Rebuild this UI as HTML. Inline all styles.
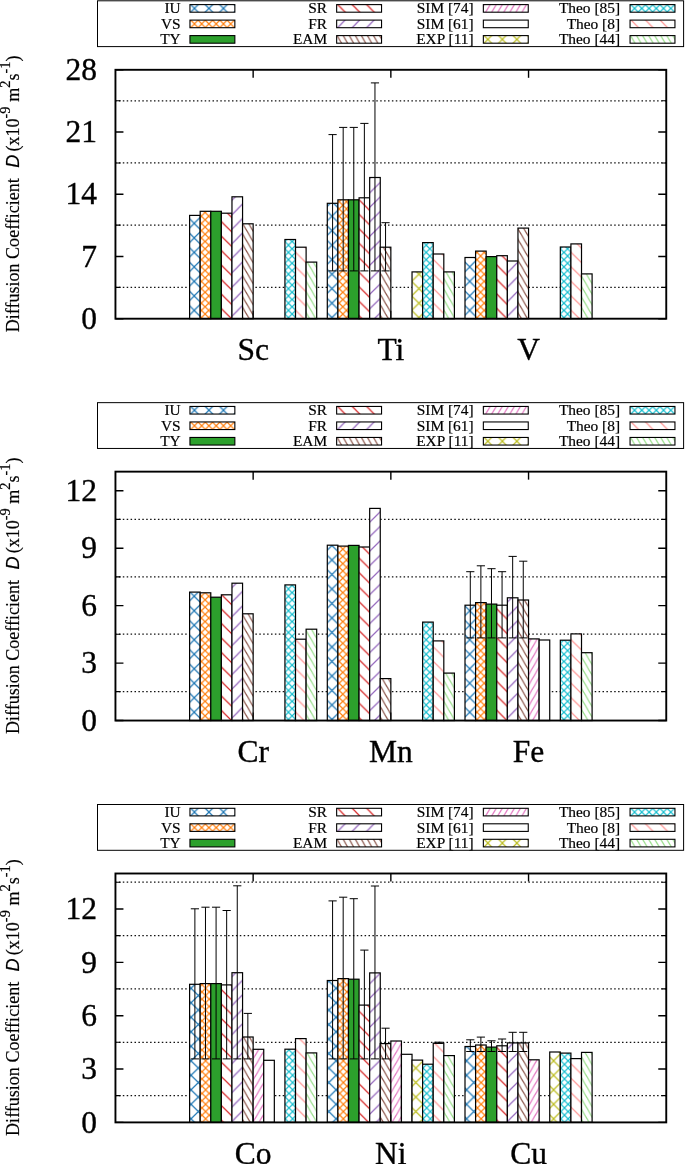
<!DOCTYPE html>
<html lang="en"><head><meta charset="utf-8"><title>Diffusion coefficients</title>
<style>html,body{margin:0;padding:0;background:#fff}svg{display:block}text{font-family:"Liberation Serif","Times New Roman",serif;fill:#000}.tk{font-size:31.5px;stroke:#000;stroke-width:.35px}.lg{font-size:15.4px;stroke:#000;stroke-width:.2px}.yl{font-size:18.05px;stroke:#000;stroke-width:.2px}.sup{font-size:14.4px}.it{font-family:"Liberation Sans",Helvetica,Arial,sans-serif;font-style:italic}</style></head><body>
<svg width="685" height="1164" viewBox="0 0 685 1164">
<rect x="0" y="0" width="685" height="1164" fill="#fff"/>
<defs>
<pattern id="p0IU" patternUnits="userSpaceOnUse" x="5.7" y="5.9" width="14.5" height="14.5"><path d="M0 0L14.5 14.5M0 14.5L14.5 0" stroke="#1f77b4" stroke-width="1.2" fill="none"/></pattern><pattern id="p0VS" patternUnits="userSpaceOnUse" x="5.7" y="5.9" width="7.25" height="7.25"><path d="M0 0L7.25 7.25M0 7.25L7.25 0" stroke="#ff7f0e" stroke-width="1.2" fill="none"/></pattern><pattern id="p0SR" patternUnits="userSpaceOnUse" x="5.7" y="5.9" width="14.5" height="14.5"><path d="M-14.5 -14.5L29.0 29.0M-14.5 0L14.5 29.0M0 -14.5L29.0 14.5" stroke="#d62728" stroke-width="1.2" fill="none"/></pattern><pattern id="p0FR" patternUnits="userSpaceOnUse" x="5.7" y="5.9" width="14.5" height="14.5"><path d="M-14.5 29.0L29.0 -14.5M-14.5 14.5L14.5 -14.5M0 29.0L29.0 0" stroke="#9467bd" stroke-width="1.2" fill="none"/></pattern><pattern id="p0EAM" patternUnits="userSpaceOnUse" x="0.6" y="3.34" width="6.05" height="10.48"><path d="M-6.05 -10.47890734L12.1 20.95781468M-6.05 0L6.05 20.95781468M0 -10.47890734L12.1 10.47890734" stroke="#8c564b" stroke-width="1.2" fill="none"/></pattern><pattern id="p0SIM74" patternUnits="userSpaceOnUse" x="0.6" y="3.34" width="6.05" height="10.48"><path d="M-6.05 20.95781468L12.1 -10.47890734M-6.05 10.47890734L6.05 -10.47890734M0 20.95781468L12.1 0" stroke="#e377c2" stroke-width="1.2" fill="none"/></pattern><pattern id="p0EXP" patternUnits="userSpaceOnUse" x="5.7" y="5.9" width="14.5" height="14.5"><path d="M0 0L14.5 14.5M0 14.5L14.5 0" stroke="#bcbd22" stroke-width="1.2" fill="none"/></pattern><pattern id="p0T85" patternUnits="userSpaceOnUse" x="5.7" y="5.9" width="7.25" height="7.25"><path d="M0 0L7.25 7.25M0 7.25L7.25 0" stroke="#17becf" stroke-width="1.2" fill="none"/></pattern><pattern id="p0T8" patternUnits="userSpaceOnUse" x="5.7" y="5.9" width="14.5" height="14.5"><path d="M-14.5 -14.5L29.0 29.0M-14.5 0L14.5 29.0M0 -14.5L29.0 14.5" stroke="#ff9896" stroke-width="1.2" fill="none"/></pattern><pattern id="p0T44" patternUnits="userSpaceOnUse" x="0.6" y="3.34" width="6.05" height="10.48"><path d="M-6.05 -10.47890734L12.1 20.95781468M-6.05 0L6.05 20.95781468M0 -10.47890734L12.1 10.47890734" stroke="#98df8a" stroke-width="1.2" fill="none"/></pattern>
<pattern id="p1IU" patternUnits="userSpaceOnUse" x="5.7" y="1.75" width="14.5" height="14.5"><path d="M0 0L14.5 14.5M0 14.5L14.5 0" stroke="#1f77b4" stroke-width="1.2" fill="none"/></pattern><pattern id="p1VS" patternUnits="userSpaceOnUse" x="5.7" y="1.75" width="7.25" height="7.25"><path d="M0 0L7.25 7.25M0 7.25L7.25 0" stroke="#ff7f0e" stroke-width="1.2" fill="none"/></pattern><pattern id="p1SR" patternUnits="userSpaceOnUse" x="5.7" y="1.75" width="14.5" height="14.5"><path d="M-14.5 -14.5L29.0 29.0M-14.5 0L14.5 29.0M0 -14.5L29.0 14.5" stroke="#d62728" stroke-width="1.2" fill="none"/></pattern><pattern id="p1FR" patternUnits="userSpaceOnUse" x="5.7" y="1.75" width="14.5" height="14.5"><path d="M-14.5 29.0L29.0 -14.5M-14.5 14.5L14.5 -14.5M0 29.0L29.0 0" stroke="#9467bd" stroke-width="1.2" fill="none"/></pattern><pattern id="p1EAM" patternUnits="userSpaceOnUse" x="0.6" y="6.99" width="6.05" height="10.48"><path d="M-6.05 -10.47890734L12.1 20.95781468M-6.05 0L6.05 20.95781468M0 -10.47890734L12.1 10.47890734" stroke="#8c564b" stroke-width="1.2" fill="none"/></pattern><pattern id="p1SIM74" patternUnits="userSpaceOnUse" x="0.6" y="6.99" width="6.05" height="10.48"><path d="M-6.05 20.95781468L12.1 -10.47890734M-6.05 10.47890734L6.05 -10.47890734M0 20.95781468L12.1 0" stroke="#e377c2" stroke-width="1.2" fill="none"/></pattern><pattern id="p1EXP" patternUnits="userSpaceOnUse" x="5.7" y="1.75" width="14.5" height="14.5"><path d="M0 0L14.5 14.5M0 14.5L14.5 0" stroke="#bcbd22" stroke-width="1.2" fill="none"/></pattern><pattern id="p1T85" patternUnits="userSpaceOnUse" x="5.7" y="1.75" width="7.25" height="7.25"><path d="M0 0L7.25 7.25M0 7.25L7.25 0" stroke="#17becf" stroke-width="1.2" fill="none"/></pattern><pattern id="p1T8" patternUnits="userSpaceOnUse" x="5.7" y="1.75" width="14.5" height="14.5"><path d="M-14.5 -14.5L29.0 29.0M-14.5 0L14.5 29.0M0 -14.5L29.0 14.5" stroke="#ff9896" stroke-width="1.2" fill="none"/></pattern><pattern id="p1T44" patternUnits="userSpaceOnUse" x="0.6" y="6.99" width="6.05" height="10.48"><path d="M-6.05 -10.47890734L12.1 20.95781468M-6.05 0L6.05 20.95781468M0 -10.47890734L12.1 10.47890734" stroke="#98df8a" stroke-width="1.2" fill="none"/></pattern>
<pattern id="p2IU" patternUnits="userSpaceOnUse" x="2.6" y="2.3" width="14.5" height="14.5"><path d="M0 0L14.5 14.5M0 14.5L14.5 0" stroke="#1f77b4" stroke-width="1.2" fill="none"/></pattern><pattern id="p2VS" patternUnits="userSpaceOnUse" x="2.6" y="2.3" width="7.25" height="7.25"><path d="M0 0L7.25 7.25M0 7.25L7.25 0" stroke="#ff7f0e" stroke-width="1.2" fill="none"/></pattern><pattern id="p2SR" patternUnits="userSpaceOnUse" x="2.6" y="2.3" width="14.5" height="14.5"><path d="M-14.5 -14.5L29.0 29.0M-14.5 0L14.5 29.0M0 -14.5L29.0 14.5" stroke="#d62728" stroke-width="1.2" fill="none"/></pattern><pattern id="p2FR" patternUnits="userSpaceOnUse" x="2.6" y="2.3" width="14.5" height="14.5"><path d="M-14.5 29.0L29.0 -14.5M-14.5 14.5L14.5 -14.5M0 29.0L29.0 0" stroke="#9467bd" stroke-width="1.2" fill="none"/></pattern><pattern id="p2EAM" patternUnits="userSpaceOnUse" x="3.55" y="3.28" width="6.05" height="10.48"><path d="M-6.05 -10.47890734L12.1 20.95781468M-6.05 0L6.05 20.95781468M0 -10.47890734L12.1 10.47890734" stroke="#8c564b" stroke-width="1.2" fill="none"/></pattern><pattern id="p2SIM74" patternUnits="userSpaceOnUse" x="3.55" y="3.28" width="6.05" height="10.48"><path d="M-6.05 20.95781468L12.1 -10.47890734M-6.05 10.47890734L6.05 -10.47890734M0 20.95781468L12.1 0" stroke="#e377c2" stroke-width="1.2" fill="none"/></pattern><pattern id="p2EXP" patternUnits="userSpaceOnUse" x="2.6" y="2.3" width="14.5" height="14.5"><path d="M0 0L14.5 14.5M0 14.5L14.5 0" stroke="#bcbd22" stroke-width="1.2" fill="none"/></pattern><pattern id="p2T85" patternUnits="userSpaceOnUse" x="2.6" y="2.3" width="7.25" height="7.25"><path d="M0 0L7.25 7.25M0 7.25L7.25 0" stroke="#17becf" stroke-width="1.2" fill="none"/></pattern><pattern id="p2T8" patternUnits="userSpaceOnUse" x="2.6" y="2.3" width="14.5" height="14.5"><path d="M-14.5 -14.5L29.0 29.0M-14.5 0L14.5 29.0M0 -14.5L29.0 14.5" stroke="#ff9896" stroke-width="1.2" fill="none"/></pattern><pattern id="p2T44" patternUnits="userSpaceOnUse" x="3.55" y="3.28" width="6.05" height="10.48"><path d="M-6.05 -10.47890734L12.1 20.95781468M-6.05 0L6.05 20.95781468M0 -10.47890734L12.1 10.47890734" stroke="#98df8a" stroke-width="1.2" fill="none"/></pattern>
</defs>
<g id="panel1">
<rect x="97.5" y="0.8" width="586.1" height="45.8" fill="#fff" stroke="#000" stroke-width="1"/>
<text class="lg" x="180.7" y="13.4" text-anchor="end">IU</text>
<pattern id="q0IU" href="#p0IU" x="194.45" y="8.4"/>
<rect x="189.95" y="4.6" width="44.9" height="7.6" fill="url(#q0IU)"/>
<rect x="189.95" y="4.6" width="44.9" height="7.6" fill="none" stroke="#000" stroke-width="1.1"/>
<text class="lg" x="180.7" y="28.9" text-anchor="end">VS</text>
<pattern id="q0VS" href="#p0VS" x="194.45" y="23.9"/>
<rect x="189.95" y="20.1" width="44.9" height="7.6" fill="url(#q0VS)"/>
<rect x="189.95" y="20.1" width="44.9" height="7.6" fill="none" stroke="#000" stroke-width="1.1"/>
<text class="lg" x="180.7" y="44.4" text-anchor="end">TY</text>
<rect x="189.95" y="35.6" width="44.9" height="7.6" fill="#2ca02c"/>
<rect x="189.95" y="35.6" width="44.9" height="7.6" fill="none" stroke="#000" stroke-width="1.1"/>
<text class="lg" x="327.15" y="13.4" text-anchor="end">SR</text>
<pattern id="q0SR" href="#p0SR" x="341.45" y="8.4"/>
<rect x="336.65" y="4.6" width="44.9" height="7.6" fill="url(#q0SR)"/>
<rect x="336.65" y="4.6" width="44.9" height="7.6" fill="none" stroke="#000" stroke-width="1.1"/>
<text class="lg" x="327.15" y="28.9" text-anchor="end">FR</text>
<pattern id="q0FR" href="#p0FR" x="341.35" y="23.9"/>
<rect x="336.65" y="20.1" width="44.9" height="7.6" fill="url(#q0FR)"/>
<rect x="336.65" y="20.1" width="44.9" height="7.6" fill="none" stroke="#000" stroke-width="1.1"/>
<text class="lg" x="327.15" y="44.4" text-anchor="end">EAM</text>
<pattern id="q0EAM" href="#p0EAM" x="339.35" y="39.4"/>
<rect x="336.65" y="35.6" width="44.9" height="7.6" fill="url(#q0EAM)"/>
<rect x="336.65" y="35.6" width="44.9" height="7.6" fill="none" stroke="#000" stroke-width="1.1"/>
<text class="lg" x="473.6" y="13.4" text-anchor="end">SIM [74]</text>
<pattern id="q0SIM74" href="#p0SIM74" x="487.95" y="8.4"/>
<rect x="483.35" y="4.6" width="44.9" height="7.6" fill="url(#q0SIM74)"/>
<rect x="483.35" y="4.6" width="44.9" height="7.6" fill="none" stroke="#000" stroke-width="1.1"/>
<text class="lg" x="473.6" y="28.9" text-anchor="end">SIM [61]</text>
<rect x="483.35" y="20.1" width="44.9" height="7.6" fill="none" stroke="#000" stroke-width="1.1"/>
<text class="lg" x="473.6" y="44.4" text-anchor="end">EXP [11]</text>
<pattern id="q0EXP" href="#p0EXP" x="487.85" y="39.4"/>
<rect x="483.35" y="35.6" width="44.9" height="7.6" fill="url(#q0EXP)"/>
<rect x="483.35" y="35.6" width="44.9" height="7.6" fill="none" stroke="#000" stroke-width="1.1"/>
<text class="lg" x="620.05" y="13.4" text-anchor="end">Theo [85]</text>
<pattern id="q0T85" href="#p0T85" x="634.55" y="8.4"/>
<rect x="630.05" y="4.6" width="44.9" height="7.6" fill="url(#q0T85)"/>
<rect x="630.05" y="4.6" width="44.9" height="7.6" fill="none" stroke="#000" stroke-width="1.1"/>
<text class="lg" x="620.05" y="28.9" text-anchor="end">Theo [8]</text>
<pattern id="q0T8" href="#p0T8" x="634.85" y="23.9"/>
<rect x="630.05" y="20.1" width="44.9" height="7.6" fill="url(#q0T8)"/>
<rect x="630.05" y="20.1" width="44.9" height="7.6" fill="none" stroke="#000" stroke-width="1.1"/>
<text class="lg" x="620.05" y="44.4" text-anchor="end">Theo [44]</text>
<pattern id="q0T44" href="#p0T44" x="632.75" y="39.4"/>
<rect x="630.05" y="35.6" width="44.9" height="7.6" fill="url(#q0T44)"/>
<rect x="630.05" y="35.6" width="44.9" height="7.6" fill="none" stroke="#000" stroke-width="1.1"/>
<line x1="115.45" x2="666.25" y1="287.44" y2="287.44" stroke="#111" stroke-width="1.25" stroke-dasharray="1.5 2.4" stroke-dashoffset="0.45"/>
<path d="M115.45 287.44h5.1M666.25 287.44h-4.4" stroke="#000" stroke-width="1.2" fill="none"/>
<line x1="115.45" x2="666.25" y1="225.21" y2="225.21" stroke="#111" stroke-width="1.25" stroke-dasharray="1.5 2.4" stroke-dashoffset="0.45"/>
<path d="M115.45 225.21h5.1M666.25 225.21h-4.4" stroke="#000" stroke-width="1.2" fill="none"/>
<line x1="115.45" x2="666.25" y1="162.99" y2="162.99" stroke="#111" stroke-width="1.25" stroke-dasharray="1.5 2.4" stroke-dashoffset="0.45"/>
<path d="M115.45 162.99h5.1M666.25 162.99h-4.4" stroke="#000" stroke-width="1.2" fill="none"/>
<line x1="115.45" x2="666.25" y1="100.76" y2="100.76" stroke="#111" stroke-width="1.25" stroke-dasharray="1.5 2.4" stroke-dashoffset="0.45"/>
<path d="M115.45 100.76h5.1M666.25 100.76h-4.4" stroke="#000" stroke-width="1.2" fill="none"/>
<rect x="189.6" y="215.4" width="10.59" height="103.3" fill="#fff"/>
<rect x="189.6" y="215.4" width="10.59" height="103.3" fill="url(#p0IU)"/>
<rect x="189.6" y="215.4" width="10.59" height="103.3" fill="none" stroke="#000" stroke-width="1.2"/>
<rect x="200.19" y="211.3" width="10.59" height="107.4" fill="#fff"/>
<rect x="200.19" y="211.3" width="10.59" height="107.4" fill="url(#p0VS)"/>
<rect x="200.19" y="211.3" width="10.59" height="107.4" fill="none" stroke="#000" stroke-width="1.2"/>
<rect x="210.78" y="211.3" width="10.59" height="107.4" fill="#fff"/>
<rect x="210.78" y="211.3" width="10.59" height="107.4" fill="#2ca02c"/>
<rect x="210.78" y="211.3" width="10.59" height="107.4" fill="none" stroke="#000" stroke-width="1.2"/>
<rect x="221.37" y="213.2" width="10.59" height="105.5" fill="#fff"/>
<rect x="221.37" y="213.2" width="10.59" height="105.5" fill="url(#p0SR)"/>
<rect x="221.37" y="213.2" width="10.59" height="105.5" fill="none" stroke="#000" stroke-width="1.2"/>
<rect x="231.97" y="196.8" width="10.59" height="121.9" fill="#fff"/>
<rect x="231.97" y="196.8" width="10.59" height="121.9" fill="url(#p0FR)"/>
<rect x="231.97" y="196.8" width="10.59" height="121.9" fill="none" stroke="#000" stroke-width="1.2"/>
<rect x="242.56" y="223.8" width="10.59" height="94.9" fill="#fff"/>
<rect x="242.56" y="223.8" width="10.59" height="94.9" fill="url(#p0EAM)"/>
<rect x="242.56" y="223.8" width="10.59" height="94.9" fill="none" stroke="#000" stroke-width="1.2"/>
<rect x="284.93" y="239.5" width="10.59" height="79.2" fill="#fff"/>
<rect x="284.93" y="239.5" width="10.59" height="79.2" fill="url(#p0T85)"/>
<rect x="284.93" y="239.5" width="10.59" height="79.2" fill="none" stroke="#000" stroke-width="1.2"/>
<rect x="295.52" y="247.2" width="10.59" height="71.5" fill="#fff"/>
<rect x="295.52" y="247.2" width="10.59" height="71.5" fill="url(#p0T8)"/>
<rect x="295.52" y="247.2" width="10.59" height="71.5" fill="none" stroke="#000" stroke-width="1.2"/>
<rect x="306.11" y="262.1" width="10.59" height="56.6" fill="#fff"/>
<rect x="306.11" y="262.1" width="10.59" height="56.6" fill="url(#p0T44)"/>
<rect x="306.11" y="262.1" width="10.59" height="56.6" fill="none" stroke="#000" stroke-width="1.2"/>
<rect x="327.3" y="203.3" width="10.59" height="115.4" fill="#fff"/>
<rect x="327.3" y="203.3" width="10.59" height="115.4" fill="url(#p0IU)"/>
<rect x="327.3" y="203.3" width="10.59" height="115.4" fill="none" stroke="#000" stroke-width="1.2"/>
<rect x="337.89" y="199.8" width="10.59" height="118.9" fill="#fff"/>
<rect x="337.89" y="199.8" width="10.59" height="118.9" fill="url(#p0VS)"/>
<rect x="337.89" y="199.8" width="10.59" height="118.9" fill="none" stroke="#000" stroke-width="1.2"/>
<rect x="348.48" y="199.8" width="10.59" height="118.9" fill="#fff"/>
<rect x="348.48" y="199.8" width="10.59" height="118.9" fill="#2ca02c"/>
<rect x="348.48" y="199.8" width="10.59" height="118.9" fill="none" stroke="#000" stroke-width="1.2"/>
<rect x="359.07" y="197.8" width="10.59" height="120.9" fill="#fff"/>
<rect x="359.07" y="197.8" width="10.59" height="120.9" fill="url(#p0SR)"/>
<rect x="359.07" y="197.8" width="10.59" height="120.9" fill="none" stroke="#000" stroke-width="1.2"/>
<rect x="369.67" y="177.5" width="10.59" height="141.2" fill="#fff"/>
<rect x="369.67" y="177.5" width="10.59" height="141.2" fill="url(#p0FR)"/>
<rect x="369.67" y="177.5" width="10.59" height="141.2" fill="none" stroke="#000" stroke-width="1.2"/>
<rect x="380.26" y="247.2" width="10.59" height="71.5" fill="#fff"/>
<rect x="380.26" y="247.2" width="10.59" height="71.5" fill="url(#p0EAM)"/>
<rect x="380.26" y="247.2" width="10.59" height="71.5" fill="none" stroke="#000" stroke-width="1.2"/>
<rect x="412.03" y="271.9" width="10.59" height="46.8" fill="#fff"/>
<rect x="412.03" y="271.9" width="10.59" height="46.8" fill="url(#p0EXP)"/>
<rect x="412.03" y="271.9" width="10.59" height="46.8" fill="none" stroke="#000" stroke-width="1.2"/>
<rect x="422.63" y="242.6" width="10.59" height="76.1" fill="#fff"/>
<rect x="422.63" y="242.6" width="10.59" height="76.1" fill="url(#p0T85)"/>
<rect x="422.63" y="242.6" width="10.59" height="76.1" fill="none" stroke="#000" stroke-width="1.2"/>
<rect x="433.22" y="254" width="10.59" height="64.7" fill="#fff"/>
<rect x="433.22" y="254" width="10.59" height="64.7" fill="url(#p0T8)"/>
<rect x="433.22" y="254" width="10.59" height="64.7" fill="none" stroke="#000" stroke-width="1.2"/>
<rect x="443.81" y="271.9" width="10.59" height="46.8" fill="#fff"/>
<rect x="443.81" y="271.9" width="10.59" height="46.8" fill="url(#p0T44)"/>
<rect x="443.81" y="271.9" width="10.59" height="46.8" fill="none" stroke="#000" stroke-width="1.2"/>
<rect x="465" y="257.5" width="10.59" height="61.2" fill="#fff"/>
<rect x="465" y="257.5" width="10.59" height="61.2" fill="url(#p0IU)"/>
<rect x="465" y="257.5" width="10.59" height="61.2" fill="none" stroke="#000" stroke-width="1.2"/>
<rect x="475.59" y="251.1" width="10.59" height="67.6" fill="#fff"/>
<rect x="475.59" y="251.1" width="10.59" height="67.6" fill="url(#p0VS)"/>
<rect x="475.59" y="251.1" width="10.59" height="67.6" fill="none" stroke="#000" stroke-width="1.2"/>
<rect x="486.18" y="256.6" width="10.59" height="62.1" fill="#fff"/>
<rect x="486.18" y="256.6" width="10.59" height="62.1" fill="#2ca02c"/>
<rect x="486.18" y="256.6" width="10.59" height="62.1" fill="none" stroke="#000" stroke-width="1.2"/>
<rect x="496.77" y="255.7" width="10.59" height="63" fill="#fff"/>
<rect x="496.77" y="255.7" width="10.59" height="63" fill="url(#p0SR)"/>
<rect x="496.77" y="255.7" width="10.59" height="63" fill="none" stroke="#000" stroke-width="1.2"/>
<rect x="507.37" y="261" width="10.59" height="57.7" fill="#fff"/>
<rect x="507.37" y="261" width="10.59" height="57.7" fill="url(#p0FR)"/>
<rect x="507.37" y="261" width="10.59" height="57.7" fill="none" stroke="#000" stroke-width="1.2"/>
<rect x="517.96" y="228.1" width="10.59" height="90.6" fill="#fff"/>
<rect x="517.96" y="228.1" width="10.59" height="90.6" fill="url(#p0EAM)"/>
<rect x="517.96" y="228.1" width="10.59" height="90.6" fill="none" stroke="#000" stroke-width="1.2"/>
<rect x="560.33" y="247" width="10.59" height="71.7" fill="#fff"/>
<rect x="560.33" y="247" width="10.59" height="71.7" fill="url(#p0T85)"/>
<rect x="560.33" y="247" width="10.59" height="71.7" fill="none" stroke="#000" stroke-width="1.2"/>
<rect x="570.92" y="243.9" width="10.59" height="74.8" fill="#fff"/>
<rect x="570.92" y="243.9" width="10.59" height="74.8" fill="url(#p0T8)"/>
<rect x="570.92" y="243.9" width="10.59" height="74.8" fill="none" stroke="#000" stroke-width="1.2"/>
<rect x="581.51" y="273.9" width="10.59" height="44.8" fill="#fff"/>
<rect x="581.51" y="273.9" width="10.59" height="44.8" fill="url(#p0T44)"/>
<rect x="581.51" y="273.9" width="10.59" height="44.8" fill="none" stroke="#000" stroke-width="1.2"/>
<path d="M332.59 134.6V270.9M328.49 134.6H336.69M328.49 270.9H336.69" stroke="#000" stroke-width="1" fill="none"/>
<path d="M343.18 127.4V270.9M339.08 127.4H347.28M339.08 270.9H347.28" stroke="#000" stroke-width="1" fill="none"/>
<path d="M353.78 127.4V270.9M349.68 127.4H357.88M349.68 270.9H357.88" stroke="#000" stroke-width="1" fill="none"/>
<path d="M364.37 123.4V270.9M360.27 123.4H368.47M360.27 270.9H368.47" stroke="#000" stroke-width="1" fill="none"/>
<path d="M374.96 82.9V270.9M370.86 82.9H379.06M370.86 270.9H379.06" stroke="#000" stroke-width="1" fill="none"/>
<path d="M385.55 222.7V270.9M381.45 222.7H389.65M381.45 270.9H389.65" stroke="#000" stroke-width="1" fill="none"/>
<path d="M115.45 318.7h8M666.25 318.7h-8" stroke="#000" stroke-width="1.4" fill="none"/>
<text class="tk" x="97" y="328.9" text-anchor="end">0</text>
<path d="M115.45 256.48h8M666.25 256.48h-8" stroke="#000" stroke-width="1.4" fill="none"/>
<text class="tk" x="97" y="266.68" text-anchor="end">7</text>
<path d="M115.45 194.25h8M666.25 194.25h-8" stroke="#000" stroke-width="1.4" fill="none"/>
<text class="tk" x="97" y="204.45" text-anchor="end">14</text>
<path d="M115.45 132.03h8M666.25 132.03h-8" stroke="#000" stroke-width="1.4" fill="none"/>
<text class="tk" x="97" y="142.22" text-anchor="end">21</text>
<path d="M115.45 69.8h8M666.25 69.8h-8" stroke="#000" stroke-width="1.4" fill="none"/>
<text class="tk" x="97" y="80" text-anchor="end">28</text>
<path d="M253.15 69.8v8" stroke="#000" stroke-width="1.4" fill="none"/>
<path d="M253.15 318.7v-8" stroke="#000" stroke-width="1.1" fill="none"/>
<text class="tk" x="253.15" y="360.2" text-anchor="middle">Sc</text>
<path d="M390.85 69.8v8" stroke="#000" stroke-width="1.4" fill="none"/>
<path d="M390.85 318.7v-8" stroke="#000" stroke-width="1.1" fill="none"/>
<text class="tk" x="390.85" y="360.2" text-anchor="middle">Ti</text>
<path d="M528.55 69.8v8" stroke="#000" stroke-width="1.4" fill="none"/>
<path d="M528.55 318.7v-8" stroke="#000" stroke-width="1.1" fill="none"/>
<text class="tk" x="528.55" y="360.2" text-anchor="middle">V</text>
<rect x="115.45" y="69.8" width="550.8" height="248.9" fill="none" stroke="#000" stroke-width="1.9"/>
<text class="yl" transform="translate(18.8 332.2) rotate(-90)">Diffusion Coefficient<tspan class="it" dx="10.4">D</tspan><tspan dx="3.2">(x10</tspan><tspan class="sup" dy="-9">-9</tspan><tspan dy="9" dx="4.6">m</tspan><tspan class="sup" dy="-9">2</tspan><tspan dy="9">s</tspan><tspan class="sup" dy="-9">-1</tspan><tspan dy="9">)</tspan></text>
</g>
<g id="panel2">
<rect x="97.5" y="402.65" width="586.1" height="45.8" fill="#fff" stroke="#000" stroke-width="1"/>
<text class="lg" x="180.7" y="415.25" text-anchor="end">IU</text>
<pattern id="q1IU" href="#p1IU" x="194.45" y="410.25"/>
<rect x="189.95" y="406.45" width="44.9" height="7.6" fill="url(#q1IU)"/>
<rect x="189.95" y="406.45" width="44.9" height="7.6" fill="none" stroke="#000" stroke-width="1.1"/>
<text class="lg" x="180.7" y="430.75" text-anchor="end">VS</text>
<pattern id="q1VS" href="#p1VS" x="194.45" y="425.75"/>
<rect x="189.95" y="421.95" width="44.9" height="7.6" fill="url(#q1VS)"/>
<rect x="189.95" y="421.95" width="44.9" height="7.6" fill="none" stroke="#000" stroke-width="1.1"/>
<text class="lg" x="180.7" y="446.25" text-anchor="end">TY</text>
<rect x="189.95" y="437.45" width="44.9" height="7.6" fill="#2ca02c"/>
<rect x="189.95" y="437.45" width="44.9" height="7.6" fill="none" stroke="#000" stroke-width="1.1"/>
<text class="lg" x="327.15" y="415.25" text-anchor="end">SR</text>
<pattern id="q1SR" href="#p1SR" x="341.45" y="410.25"/>
<rect x="336.65" y="406.45" width="44.9" height="7.6" fill="url(#q1SR)"/>
<rect x="336.65" y="406.45" width="44.9" height="7.6" fill="none" stroke="#000" stroke-width="1.1"/>
<text class="lg" x="327.15" y="430.75" text-anchor="end">FR</text>
<pattern id="q1FR" href="#p1FR" x="341.35" y="425.75"/>
<rect x="336.65" y="421.95" width="44.9" height="7.6" fill="url(#q1FR)"/>
<rect x="336.65" y="421.95" width="44.9" height="7.6" fill="none" stroke="#000" stroke-width="1.1"/>
<text class="lg" x="327.15" y="446.25" text-anchor="end">EAM</text>
<pattern id="q1EAM" href="#p1EAM" x="339.35" y="441.25"/>
<rect x="336.65" y="437.45" width="44.9" height="7.6" fill="url(#q1EAM)"/>
<rect x="336.65" y="437.45" width="44.9" height="7.6" fill="none" stroke="#000" stroke-width="1.1"/>
<text class="lg" x="473.6" y="415.25" text-anchor="end">SIM [74]</text>
<pattern id="q1SIM74" href="#p1SIM74" x="487.95" y="410.25"/>
<rect x="483.35" y="406.45" width="44.9" height="7.6" fill="url(#q1SIM74)"/>
<rect x="483.35" y="406.45" width="44.9" height="7.6" fill="none" stroke="#000" stroke-width="1.1"/>
<text class="lg" x="473.6" y="430.75" text-anchor="end">SIM [61]</text>
<rect x="483.35" y="421.95" width="44.9" height="7.6" fill="none" stroke="#000" stroke-width="1.1"/>
<text class="lg" x="473.6" y="446.25" text-anchor="end">EXP [11]</text>
<pattern id="q1EXP" href="#p1EXP" x="487.85" y="441.25"/>
<rect x="483.35" y="437.45" width="44.9" height="7.6" fill="url(#q1EXP)"/>
<rect x="483.35" y="437.45" width="44.9" height="7.6" fill="none" stroke="#000" stroke-width="1.1"/>
<text class="lg" x="620.05" y="415.25" text-anchor="end">Theo [85]</text>
<pattern id="q1T85" href="#p1T85" x="634.55" y="410.25"/>
<rect x="630.05" y="406.45" width="44.9" height="7.6" fill="url(#q1T85)"/>
<rect x="630.05" y="406.45" width="44.9" height="7.6" fill="none" stroke="#000" stroke-width="1.1"/>
<text class="lg" x="620.05" y="430.75" text-anchor="end">Theo [8]</text>
<pattern id="q1T8" href="#p1T8" x="634.85" y="425.75"/>
<rect x="630.05" y="421.95" width="44.9" height="7.6" fill="url(#q1T8)"/>
<rect x="630.05" y="421.95" width="44.9" height="7.6" fill="none" stroke="#000" stroke-width="1.1"/>
<text class="lg" x="620.05" y="446.25" text-anchor="end">Theo [44]</text>
<pattern id="q1T44" href="#p1T44" x="632.75" y="441.25"/>
<rect x="630.05" y="437.45" width="44.9" height="7.6" fill="url(#q1T44)"/>
<rect x="630.05" y="437.45" width="44.9" height="7.6" fill="none" stroke="#000" stroke-width="1.1"/>
<line x1="115.45" x2="666.25" y1="691.68" y2="691.68" stroke="#111" stroke-width="1.25" stroke-dasharray="1.5 2.4" stroke-dashoffset="0.45"/>
<path d="M115.45 691.68h5.1M666.25 691.68h-4.4" stroke="#000" stroke-width="1.2" fill="none"/>
<line x1="115.45" x2="666.25" y1="634.24" y2="634.24" stroke="#111" stroke-width="1.25" stroke-dasharray="1.5 2.4" stroke-dashoffset="0.45"/>
<path d="M115.45 634.24h5.1M666.25 634.24h-4.4" stroke="#000" stroke-width="1.2" fill="none"/>
<line x1="115.45" x2="666.25" y1="576.8" y2="576.8" stroke="#111" stroke-width="1.25" stroke-dasharray="1.5 2.4" stroke-dashoffset="0.45"/>
<path d="M115.45 576.8h5.1M666.25 576.8h-4.4" stroke="#000" stroke-width="1.2" fill="none"/>
<line x1="115.45" x2="666.25" y1="519.37" y2="519.37" stroke="#111" stroke-width="1.25" stroke-dasharray="1.5 2.4" stroke-dashoffset="0.45"/>
<path d="M115.45 519.37h5.1M666.25 519.37h-4.4" stroke="#000" stroke-width="1.2" fill="none"/>
<rect x="189.6" y="592.1" width="10.59" height="128.45" fill="#fff"/>
<rect x="189.6" y="592.1" width="10.59" height="128.45" fill="url(#p1IU)"/>
<rect x="189.6" y="592.1" width="10.59" height="128.45" fill="none" stroke="#000" stroke-width="1.2"/>
<rect x="200.19" y="592.8" width="10.59" height="127.75" fill="#fff"/>
<rect x="200.19" y="592.8" width="10.59" height="127.75" fill="url(#p1VS)"/>
<rect x="200.19" y="592.8" width="10.59" height="127.75" fill="none" stroke="#000" stroke-width="1.2"/>
<rect x="210.78" y="597.2" width="10.59" height="123.35" fill="#fff"/>
<rect x="210.78" y="597.2" width="10.59" height="123.35" fill="#2ca02c"/>
<rect x="210.78" y="597.2" width="10.59" height="123.35" fill="none" stroke="#000" stroke-width="1.2"/>
<rect x="221.37" y="594.8" width="10.59" height="125.75" fill="#fff"/>
<rect x="221.37" y="594.8" width="10.59" height="125.75" fill="url(#p1SR)"/>
<rect x="221.37" y="594.8" width="10.59" height="125.75" fill="none" stroke="#000" stroke-width="1.2"/>
<rect x="231.97" y="583.2" width="10.59" height="137.35" fill="#fff"/>
<rect x="231.97" y="583.2" width="10.59" height="137.35" fill="url(#p1FR)"/>
<rect x="231.97" y="583.2" width="10.59" height="137.35" fill="none" stroke="#000" stroke-width="1.2"/>
<rect x="242.56" y="613.8" width="10.59" height="106.75" fill="#fff"/>
<rect x="242.56" y="613.8" width="10.59" height="106.75" fill="url(#p1EAM)"/>
<rect x="242.56" y="613.8" width="10.59" height="106.75" fill="none" stroke="#000" stroke-width="1.2"/>
<rect x="284.93" y="584.9" width="10.59" height="135.65" fill="#fff"/>
<rect x="284.93" y="584.9" width="10.59" height="135.65" fill="url(#p1T85)"/>
<rect x="284.93" y="584.9" width="10.59" height="135.65" fill="none" stroke="#000" stroke-width="1.2"/>
<rect x="295.52" y="639.2" width="10.59" height="81.35" fill="#fff"/>
<rect x="295.52" y="639.2" width="10.59" height="81.35" fill="url(#p1T8)"/>
<rect x="295.52" y="639.2" width="10.59" height="81.35" fill="none" stroke="#000" stroke-width="1.2"/>
<rect x="306.11" y="629.2" width="10.59" height="91.35" fill="#fff"/>
<rect x="306.11" y="629.2" width="10.59" height="91.35" fill="url(#p1T44)"/>
<rect x="306.11" y="629.2" width="10.59" height="91.35" fill="none" stroke="#000" stroke-width="1.2"/>
<rect x="327.3" y="545.2" width="10.59" height="175.35" fill="#fff"/>
<rect x="327.3" y="545.2" width="10.59" height="175.35" fill="url(#p1IU)"/>
<rect x="327.3" y="545.2" width="10.59" height="175.35" fill="none" stroke="#000" stroke-width="1.2"/>
<rect x="337.89" y="546.1" width="10.59" height="174.45" fill="#fff"/>
<rect x="337.89" y="546.1" width="10.59" height="174.45" fill="url(#p1VS)"/>
<rect x="337.89" y="546.1" width="10.59" height="174.45" fill="none" stroke="#000" stroke-width="1.2"/>
<rect x="348.48" y="545.4" width="10.59" height="175.15" fill="#fff"/>
<rect x="348.48" y="545.4" width="10.59" height="175.15" fill="#2ca02c"/>
<rect x="348.48" y="545.4" width="10.59" height="175.15" fill="none" stroke="#000" stroke-width="1.2"/>
<rect x="359.07" y="547" width="10.59" height="173.55" fill="#fff"/>
<rect x="359.07" y="547" width="10.59" height="173.55" fill="url(#p1SR)"/>
<rect x="359.07" y="547" width="10.59" height="173.55" fill="none" stroke="#000" stroke-width="1.2"/>
<rect x="369.67" y="508.4" width="10.59" height="212.15" fill="#fff"/>
<rect x="369.67" y="508.4" width="10.59" height="212.15" fill="url(#p1FR)"/>
<rect x="369.67" y="508.4" width="10.59" height="212.15" fill="none" stroke="#000" stroke-width="1.2"/>
<rect x="380.26" y="678.6" width="10.59" height="41.95" fill="#fff"/>
<rect x="380.26" y="678.6" width="10.59" height="41.95" fill="url(#p1EAM)"/>
<rect x="380.26" y="678.6" width="10.59" height="41.95" fill="none" stroke="#000" stroke-width="1.2"/>
<rect x="422.63" y="622.1" width="10.59" height="98.45" fill="#fff"/>
<rect x="422.63" y="622.1" width="10.59" height="98.45" fill="url(#p1T85)"/>
<rect x="422.63" y="622.1" width="10.59" height="98.45" fill="none" stroke="#000" stroke-width="1.2"/>
<rect x="433.22" y="640.9" width="10.59" height="79.65" fill="#fff"/>
<rect x="433.22" y="640.9" width="10.59" height="79.65" fill="url(#p1T8)"/>
<rect x="433.22" y="640.9" width="10.59" height="79.65" fill="none" stroke="#000" stroke-width="1.2"/>
<rect x="443.81" y="673.1" width="10.59" height="47.45" fill="#fff"/>
<rect x="443.81" y="673.1" width="10.59" height="47.45" fill="url(#p1T44)"/>
<rect x="443.81" y="673.1" width="10.59" height="47.45" fill="none" stroke="#000" stroke-width="1.2"/>
<rect x="465" y="605.2" width="10.59" height="115.35" fill="#fff"/>
<rect x="465" y="605.2" width="10.59" height="115.35" fill="url(#p1IU)"/>
<rect x="465" y="605.2" width="10.59" height="115.35" fill="none" stroke="#000" stroke-width="1.2"/>
<rect x="475.59" y="602.6" width="10.59" height="117.95" fill="#fff"/>
<rect x="475.59" y="602.6" width="10.59" height="117.95" fill="url(#p1VS)"/>
<rect x="475.59" y="602.6" width="10.59" height="117.95" fill="none" stroke="#000" stroke-width="1.2"/>
<rect x="486.18" y="604.1" width="10.59" height="116.45" fill="#fff"/>
<rect x="486.18" y="604.1" width="10.59" height="116.45" fill="#2ca02c"/>
<rect x="486.18" y="604.1" width="10.59" height="116.45" fill="none" stroke="#000" stroke-width="1.2"/>
<rect x="496.77" y="605.2" width="10.59" height="115.35" fill="#fff"/>
<rect x="496.77" y="605.2" width="10.59" height="115.35" fill="url(#p1SR)"/>
<rect x="496.77" y="605.2" width="10.59" height="115.35" fill="none" stroke="#000" stroke-width="1.2"/>
<rect x="507.37" y="597.8" width="10.59" height="122.75" fill="#fff"/>
<rect x="507.37" y="597.8" width="10.59" height="122.75" fill="url(#p1FR)"/>
<rect x="507.37" y="597.8" width="10.59" height="122.75" fill="none" stroke="#000" stroke-width="1.2"/>
<rect x="517.96" y="600" width="10.59" height="120.55" fill="#fff"/>
<rect x="517.96" y="600" width="10.59" height="120.55" fill="url(#p1EAM)"/>
<rect x="517.96" y="600" width="10.59" height="120.55" fill="none" stroke="#000" stroke-width="1.2"/>
<rect x="528.55" y="638.9" width="10.59" height="81.65" fill="#fff"/>
<rect x="528.55" y="638.9" width="10.59" height="81.65" fill="url(#p1SIM74)"/>
<rect x="528.55" y="638.9" width="10.59" height="81.65" fill="none" stroke="#000" stroke-width="1.2"/>
<rect x="539.14" y="640" width="10.59" height="80.55" fill="#fff"/>
<rect x="539.14" y="640" width="10.59" height="80.55" fill="none" stroke="#000" stroke-width="1.2"/>
<rect x="560.33" y="640.2" width="10.59" height="80.35" fill="#fff"/>
<rect x="560.33" y="640.2" width="10.59" height="80.35" fill="url(#p1T85)"/>
<rect x="560.33" y="640.2" width="10.59" height="80.35" fill="none" stroke="#000" stroke-width="1.2"/>
<rect x="570.92" y="633.9" width="10.59" height="86.65" fill="#fff"/>
<rect x="570.92" y="633.9" width="10.59" height="86.65" fill="url(#p1T8)"/>
<rect x="570.92" y="633.9" width="10.59" height="86.65" fill="none" stroke="#000" stroke-width="1.2"/>
<rect x="581.51" y="652.7" width="10.59" height="67.85" fill="#fff"/>
<rect x="581.51" y="652.7" width="10.59" height="67.85" fill="url(#p1T44)"/>
<rect x="581.51" y="652.7" width="10.59" height="67.85" fill="none" stroke="#000" stroke-width="1.2"/>
<path d="M470.29 571.7V637.9M466.19 571.7H474.39M466.19 637.9H474.39" stroke="#000" stroke-width="1" fill="none"/>
<path d="M480.88 565.8V637.9M476.78 565.8H484.98M476.78 637.9H484.98" stroke="#000" stroke-width="1" fill="none"/>
<path d="M491.48 568.7V637.9M487.38 568.7H495.58M487.38 637.9H495.58" stroke="#000" stroke-width="1" fill="none"/>
<path d="M502.07 571.7V637.9M497.97 571.7H506.17M497.97 637.9H506.17" stroke="#000" stroke-width="1" fill="none"/>
<path d="M512.66 556.4V637.9M508.56 556.4H516.76M508.56 637.9H516.76" stroke="#000" stroke-width="1" fill="none"/>
<path d="M523.25 561.2V637.9M519.15 561.2H527.35M519.15 637.9H527.35" stroke="#000" stroke-width="1" fill="none"/>
<path d="M115.45 720.55h8M666.25 720.55h-8" stroke="#000" stroke-width="1.4" fill="none"/>
<text class="tk" x="97" y="730.75" text-anchor="end">0</text>
<path d="M115.45 663.11h8M666.25 663.11h-8" stroke="#000" stroke-width="1.4" fill="none"/>
<text class="tk" x="97" y="673.31" text-anchor="end">3</text>
<path d="M115.45 605.67h8M666.25 605.67h-8" stroke="#000" stroke-width="1.4" fill="none"/>
<text class="tk" x="97" y="615.87" text-anchor="end">6</text>
<path d="M115.45 548.23h8M666.25 548.23h-8" stroke="#000" stroke-width="1.4" fill="none"/>
<text class="tk" x="97" y="558.43" text-anchor="end">9</text>
<path d="M115.45 490.8h8M666.25 490.8h-8" stroke="#000" stroke-width="1.4" fill="none"/>
<text class="tk" x="97" y="501" text-anchor="end">12</text>
<path d="M253.15 471.65v8" stroke="#000" stroke-width="1.4" fill="none"/>
<path d="M253.15 720.55v-8" stroke="#000" stroke-width="1.1" fill="none"/>
<text class="tk" x="253.15" y="762.05" text-anchor="middle">Cr</text>
<path d="M390.85 471.65v8" stroke="#000" stroke-width="1.4" fill="none"/>
<path d="M390.85 720.55v-8" stroke="#000" stroke-width="1.1" fill="none"/>
<text class="tk" x="390.85" y="762.05" text-anchor="middle">Mn</text>
<path d="M528.55 471.65v8" stroke="#000" stroke-width="1.4" fill="none"/>
<path d="M528.55 720.55v-8" stroke="#000" stroke-width="1.1" fill="none"/>
<text class="tk" x="528.55" y="762.05" text-anchor="middle">Fe</text>
<rect x="115.45" y="471.65" width="550.8" height="248.9" fill="none" stroke="#000" stroke-width="1.9"/>
<text class="yl" transform="translate(18.8 734.05) rotate(-90)">Diffusion Coefficient<tspan class="it" dx="10.4">D</tspan><tspan dx="3.2">(x10</tspan><tspan class="sup" dy="-9">-9</tspan><tspan dy="9" dx="4.6">m</tspan><tspan class="sup" dy="-9">2</tspan><tspan dy="9">s</tspan><tspan class="sup" dy="-9">-1</tspan><tspan dy="9">)</tspan></text>
</g>
<g id="panel3">
<rect x="97.5" y="804.5" width="586.1" height="45.8" fill="#fff" stroke="#000" stroke-width="1"/>
<text class="lg" x="180.7" y="817.1" text-anchor="end">IU</text>
<pattern id="q2IU" href="#p2IU" x="194.45" y="812.1"/>
<rect x="189.95" y="808.3" width="44.9" height="7.6" fill="url(#q2IU)"/>
<rect x="189.95" y="808.3" width="44.9" height="7.6" fill="none" stroke="#000" stroke-width="1.1"/>
<text class="lg" x="180.7" y="832.6" text-anchor="end">VS</text>
<pattern id="q2VS" href="#p2VS" x="194.45" y="827.6"/>
<rect x="189.95" y="823.8" width="44.9" height="7.6" fill="url(#q2VS)"/>
<rect x="189.95" y="823.8" width="44.9" height="7.6" fill="none" stroke="#000" stroke-width="1.1"/>
<text class="lg" x="180.7" y="848.1" text-anchor="end">TY</text>
<rect x="189.95" y="839.3" width="44.9" height="7.6" fill="#2ca02c"/>
<rect x="189.95" y="839.3" width="44.9" height="7.6" fill="none" stroke="#000" stroke-width="1.1"/>
<text class="lg" x="327.15" y="817.1" text-anchor="end">SR</text>
<pattern id="q2SR" href="#p2SR" x="341.45" y="812.1"/>
<rect x="336.65" y="808.3" width="44.9" height="7.6" fill="url(#q2SR)"/>
<rect x="336.65" y="808.3" width="44.9" height="7.6" fill="none" stroke="#000" stroke-width="1.1"/>
<text class="lg" x="327.15" y="832.6" text-anchor="end">FR</text>
<pattern id="q2FR" href="#p2FR" x="341.35" y="827.6"/>
<rect x="336.65" y="823.8" width="44.9" height="7.6" fill="url(#q2FR)"/>
<rect x="336.65" y="823.8" width="44.9" height="7.6" fill="none" stroke="#000" stroke-width="1.1"/>
<text class="lg" x="327.15" y="848.1" text-anchor="end">EAM</text>
<pattern id="q2EAM" href="#p2EAM" x="339.35" y="843.1"/>
<rect x="336.65" y="839.3" width="44.9" height="7.6" fill="url(#q2EAM)"/>
<rect x="336.65" y="839.3" width="44.9" height="7.6" fill="none" stroke="#000" stroke-width="1.1"/>
<text class="lg" x="473.6" y="817.1" text-anchor="end">SIM [74]</text>
<pattern id="q2SIM74" href="#p2SIM74" x="487.95" y="812.1"/>
<rect x="483.35" y="808.3" width="44.9" height="7.6" fill="url(#q2SIM74)"/>
<rect x="483.35" y="808.3" width="44.9" height="7.6" fill="none" stroke="#000" stroke-width="1.1"/>
<text class="lg" x="473.6" y="832.6" text-anchor="end">SIM [61]</text>
<rect x="483.35" y="823.8" width="44.9" height="7.6" fill="none" stroke="#000" stroke-width="1.1"/>
<text class="lg" x="473.6" y="848.1" text-anchor="end">EXP [11]</text>
<pattern id="q2EXP" href="#p2EXP" x="487.85" y="843.1"/>
<rect x="483.35" y="839.3" width="44.9" height="7.6" fill="url(#q2EXP)"/>
<rect x="483.35" y="839.3" width="44.9" height="7.6" fill="none" stroke="#000" stroke-width="1.1"/>
<text class="lg" x="620.05" y="817.1" text-anchor="end">Theo [85]</text>
<pattern id="q2T85" href="#p2T85" x="634.55" y="812.1"/>
<rect x="630.05" y="808.3" width="44.9" height="7.6" fill="url(#q2T85)"/>
<rect x="630.05" y="808.3" width="44.9" height="7.6" fill="none" stroke="#000" stroke-width="1.1"/>
<text class="lg" x="620.05" y="832.6" text-anchor="end">Theo [8]</text>
<pattern id="q2T8" href="#p2T8" x="634.85" y="827.6"/>
<rect x="630.05" y="823.8" width="44.9" height="7.6" fill="url(#q2T8)"/>
<rect x="630.05" y="823.8" width="44.9" height="7.6" fill="none" stroke="#000" stroke-width="1.1"/>
<text class="lg" x="620.05" y="848.1" text-anchor="end">Theo [44]</text>
<pattern id="q2T44" href="#p2T44" x="632.75" y="843.1"/>
<rect x="630.05" y="839.3" width="44.9" height="7.6" fill="url(#q2T44)"/>
<rect x="630.05" y="839.3" width="44.9" height="7.6" fill="none" stroke="#000" stroke-width="1.1"/>
<line x1="115.45" x2="666.25" y1="1095.58" y2="1095.58" stroke="#111" stroke-width="1.25" stroke-dasharray="1.5 2.4" stroke-dashoffset="0.45"/>
<path d="M115.45 1095.58h5.1M666.25 1095.58h-4.4" stroke="#000" stroke-width="1.2" fill="none"/>
<line x1="115.45" x2="666.25" y1="1042.25" y2="1042.25" stroke="#111" stroke-width="1.25" stroke-dasharray="1.5 2.4" stroke-dashoffset="0.45"/>
<path d="M115.45 1042.25h5.1M666.25 1042.25h-4.4" stroke="#000" stroke-width="1.2" fill="none"/>
<line x1="115.45" x2="666.25" y1="988.91" y2="988.91" stroke="#111" stroke-width="1.25" stroke-dasharray="1.5 2.4" stroke-dashoffset="0.45"/>
<path d="M115.45 988.91h5.1M666.25 988.91h-4.4" stroke="#000" stroke-width="1.2" fill="none"/>
<line x1="115.45" x2="666.25" y1="935.58" y2="935.58" stroke="#111" stroke-width="1.25" stroke-dasharray="1.5 2.4" stroke-dashoffset="0.45"/>
<path d="M115.45 935.58h5.1M666.25 935.58h-4.4" stroke="#000" stroke-width="1.2" fill="none"/>
<line x1="115.45" x2="666.25" y1="882.24" y2="882.24" stroke="#111" stroke-width="1.25" stroke-dasharray="1.5 2.4" stroke-dashoffset="0.45"/>
<path d="M115.45 882.24h5.1M666.25 882.24h-4.4" stroke="#000" stroke-width="1.2" fill="none"/>
<rect x="189.6" y="984.3" width="10.59" height="138.1" fill="#fff"/>
<rect x="189.6" y="984.3" width="10.59" height="138.1" fill="url(#p2IU)"/>
<rect x="189.6" y="984.3" width="10.59" height="138.1" fill="none" stroke="#000" stroke-width="1.2"/>
<rect x="200.19" y="983.6" width="10.59" height="138.8" fill="#fff"/>
<rect x="200.19" y="983.6" width="10.59" height="138.8" fill="url(#p2VS)"/>
<rect x="200.19" y="983.6" width="10.59" height="138.8" fill="none" stroke="#000" stroke-width="1.2"/>
<rect x="210.78" y="983.6" width="10.59" height="138.8" fill="#fff"/>
<rect x="210.78" y="983.6" width="10.59" height="138.8" fill="#2ca02c"/>
<rect x="210.78" y="983.6" width="10.59" height="138.8" fill="none" stroke="#000" stroke-width="1.2"/>
<rect x="221.37" y="984.9" width="10.59" height="137.5" fill="#fff"/>
<rect x="221.37" y="984.9" width="10.59" height="137.5" fill="url(#p2SR)"/>
<rect x="221.37" y="984.9" width="10.59" height="137.5" fill="none" stroke="#000" stroke-width="1.2"/>
<rect x="231.97" y="972.7" width="10.59" height="149.7" fill="#fff"/>
<rect x="231.97" y="972.7" width="10.59" height="149.7" fill="url(#p2FR)"/>
<rect x="231.97" y="972.7" width="10.59" height="149.7" fill="none" stroke="#000" stroke-width="1.2"/>
<rect x="242.56" y="1037" width="10.59" height="85.4" fill="#fff"/>
<rect x="242.56" y="1037" width="10.59" height="85.4" fill="url(#p2EAM)"/>
<rect x="242.56" y="1037" width="10.59" height="85.4" fill="none" stroke="#000" stroke-width="1.2"/>
<rect x="253.15" y="1049.3" width="10.59" height="73.1" fill="#fff"/>
<rect x="253.15" y="1049.3" width="10.59" height="73.1" fill="url(#p2SIM74)"/>
<rect x="253.15" y="1049.3" width="10.59" height="73.1" fill="none" stroke="#000" stroke-width="1.2"/>
<rect x="263.74" y="1060.3" width="10.59" height="62.1" fill="#fff"/>
<rect x="263.74" y="1060.3" width="10.59" height="62.1" fill="none" stroke="#000" stroke-width="1.2"/>
<rect x="284.93" y="1049.2" width="10.59" height="73.2" fill="#fff"/>
<rect x="284.93" y="1049.2" width="10.59" height="73.2" fill="url(#p2T85)"/>
<rect x="284.93" y="1049.2" width="10.59" height="73.2" fill="none" stroke="#000" stroke-width="1.2"/>
<rect x="295.52" y="1038.6" width="10.59" height="83.8" fill="#fff"/>
<rect x="295.52" y="1038.6" width="10.59" height="83.8" fill="url(#p2T8)"/>
<rect x="295.52" y="1038.6" width="10.59" height="83.8" fill="none" stroke="#000" stroke-width="1.2"/>
<rect x="306.11" y="1052.9" width="10.59" height="69.5" fill="#fff"/>
<rect x="306.11" y="1052.9" width="10.59" height="69.5" fill="url(#p2T44)"/>
<rect x="306.11" y="1052.9" width="10.59" height="69.5" fill="none" stroke="#000" stroke-width="1.2"/>
<rect x="327.3" y="980.5" width="10.59" height="141.9" fill="#fff"/>
<rect x="327.3" y="980.5" width="10.59" height="141.9" fill="url(#p2IU)"/>
<rect x="327.3" y="980.5" width="10.59" height="141.9" fill="none" stroke="#000" stroke-width="1.2"/>
<rect x="337.89" y="978.6" width="10.59" height="143.8" fill="#fff"/>
<rect x="337.89" y="978.6" width="10.59" height="143.8" fill="url(#p2VS)"/>
<rect x="337.89" y="978.6" width="10.59" height="143.8" fill="none" stroke="#000" stroke-width="1.2"/>
<rect x="348.48" y="979.2" width="10.59" height="143.2" fill="#fff"/>
<rect x="348.48" y="979.2" width="10.59" height="143.2" fill="#2ca02c"/>
<rect x="348.48" y="979.2" width="10.59" height="143.2" fill="none" stroke="#000" stroke-width="1.2"/>
<rect x="359.07" y="1005.1" width="10.59" height="117.3" fill="#fff"/>
<rect x="359.07" y="1005.1" width="10.59" height="117.3" fill="url(#p2SR)"/>
<rect x="359.07" y="1005.1" width="10.59" height="117.3" fill="none" stroke="#000" stroke-width="1.2"/>
<rect x="369.67" y="972.9" width="10.59" height="149.5" fill="#fff"/>
<rect x="369.67" y="972.9" width="10.59" height="149.5" fill="url(#p2FR)"/>
<rect x="369.67" y="972.9" width="10.59" height="149.5" fill="none" stroke="#000" stroke-width="1.2"/>
<rect x="380.26" y="1043.6" width="10.59" height="78.8" fill="#fff"/>
<rect x="380.26" y="1043.6" width="10.59" height="78.8" fill="url(#p2EAM)"/>
<rect x="380.26" y="1043.6" width="10.59" height="78.8" fill="none" stroke="#000" stroke-width="1.2"/>
<rect x="390.85" y="1041" width="10.59" height="81.4" fill="#fff"/>
<rect x="390.85" y="1041" width="10.59" height="81.4" fill="url(#p2SIM74)"/>
<rect x="390.85" y="1041" width="10.59" height="81.4" fill="none" stroke="#000" stroke-width="1.2"/>
<rect x="401.44" y="1054.3" width="10.59" height="68.1" fill="#fff"/>
<rect x="401.44" y="1054.3" width="10.59" height="68.1" fill="none" stroke="#000" stroke-width="1.2"/>
<rect x="412.03" y="1060.1" width="10.59" height="62.3" fill="#fff"/>
<rect x="412.03" y="1060.1" width="10.59" height="62.3" fill="url(#p2EXP)"/>
<rect x="412.03" y="1060.1" width="10.59" height="62.3" fill="none" stroke="#000" stroke-width="1.2"/>
<rect x="422.63" y="1064.2" width="10.59" height="58.2" fill="#fff"/>
<rect x="422.63" y="1064.2" width="10.59" height="58.2" fill="url(#p2T85)"/>
<rect x="422.63" y="1064.2" width="10.59" height="58.2" fill="none" stroke="#000" stroke-width="1.2"/>
<rect x="433.22" y="1043.2" width="10.59" height="79.2" fill="#fff"/>
<rect x="433.22" y="1043.2" width="10.59" height="79.2" fill="url(#p2T8)"/>
<rect x="433.22" y="1043.2" width="10.59" height="79.2" fill="none" stroke="#000" stroke-width="1.2"/>
<rect x="443.81" y="1055.6" width="10.59" height="66.8" fill="#fff"/>
<rect x="443.81" y="1055.6" width="10.59" height="66.8" fill="url(#p2T44)"/>
<rect x="443.81" y="1055.6" width="10.59" height="66.8" fill="none" stroke="#000" stroke-width="1.2"/>
<rect x="465" y="1046.5" width="10.59" height="75.9" fill="#fff"/>
<rect x="465" y="1046.5" width="10.59" height="75.9" fill="url(#p2IU)"/>
<rect x="465" y="1046.5" width="10.59" height="75.9" fill="none" stroke="#000" stroke-width="1.2"/>
<rect x="475.59" y="1045" width="10.59" height="77.4" fill="#fff"/>
<rect x="475.59" y="1045" width="10.59" height="77.4" fill="url(#p2VS)"/>
<rect x="475.59" y="1045" width="10.59" height="77.4" fill="none" stroke="#000" stroke-width="1.2"/>
<rect x="486.18" y="1047.1" width="10.59" height="75.3" fill="#fff"/>
<rect x="486.18" y="1047.1" width="10.59" height="75.3" fill="#2ca02c"/>
<rect x="486.18" y="1047.1" width="10.59" height="75.3" fill="none" stroke="#000" stroke-width="1.2"/>
<rect x="496.77" y="1045.8" width="10.59" height="76.6" fill="#fff"/>
<rect x="496.77" y="1045.8" width="10.59" height="76.6" fill="url(#p2SR)"/>
<rect x="496.77" y="1045.8" width="10.59" height="76.6" fill="none" stroke="#000" stroke-width="1.2"/>
<rect x="507.37" y="1042.9" width="10.59" height="79.5" fill="#fff"/>
<rect x="507.37" y="1042.9" width="10.59" height="79.5" fill="url(#p2FR)"/>
<rect x="507.37" y="1042.9" width="10.59" height="79.5" fill="none" stroke="#000" stroke-width="1.2"/>
<rect x="517.96" y="1042.9" width="10.59" height="79.5" fill="#fff"/>
<rect x="517.96" y="1042.9" width="10.59" height="79.5" fill="url(#p2EAM)"/>
<rect x="517.96" y="1042.9" width="10.59" height="79.5" fill="none" stroke="#000" stroke-width="1.2"/>
<rect x="528.55" y="1059.8" width="10.59" height="62.6" fill="#fff"/>
<rect x="528.55" y="1059.8" width="10.59" height="62.6" fill="url(#p2SIM74)"/>
<rect x="528.55" y="1059.8" width="10.59" height="62.6" fill="none" stroke="#000" stroke-width="1.2"/>
<rect x="549.73" y="1052" width="10.59" height="70.4" fill="#fff"/>
<rect x="549.73" y="1052" width="10.59" height="70.4" fill="url(#p2EXP)"/>
<rect x="549.73" y="1052" width="10.59" height="70.4" fill="none" stroke="#000" stroke-width="1.2"/>
<rect x="560.33" y="1053.1" width="10.59" height="69.3" fill="#fff"/>
<rect x="560.33" y="1053.1" width="10.59" height="69.3" fill="url(#p2T85)"/>
<rect x="560.33" y="1053.1" width="10.59" height="69.3" fill="none" stroke="#000" stroke-width="1.2"/>
<rect x="570.92" y="1058.6" width="10.59" height="63.8" fill="#fff"/>
<rect x="570.92" y="1058.6" width="10.59" height="63.8" fill="url(#p2T8)"/>
<rect x="570.92" y="1058.6" width="10.59" height="63.8" fill="none" stroke="#000" stroke-width="1.2"/>
<rect x="581.51" y="1052.4" width="10.59" height="70" fill="#fff"/>
<rect x="581.51" y="1052.4" width="10.59" height="70" fill="url(#p2T44)"/>
<rect x="581.51" y="1052.4" width="10.59" height="70" fill="none" stroke="#000" stroke-width="1.2"/>
<path d="M194.89 908.8V1058.9M190.79 908.8H198.99M190.79 1058.9H198.99" stroke="#000" stroke-width="1" fill="none"/>
<path d="M205.48 907.2V1058.9M201.38 907.2H209.58M201.38 1058.9H209.58" stroke="#000" stroke-width="1" fill="none"/>
<path d="M216.08 907.2V1058.9M211.98 907.2H220.18M211.98 1058.9H220.18" stroke="#000" stroke-width="1" fill="none"/>
<path d="M226.67 910.5V1058.9M222.57 910.5H230.77M222.57 1058.9H230.77" stroke="#000" stroke-width="1" fill="none"/>
<path d="M237.26 885.8V1058.9M233.16 885.8H241.36M233.16 1058.9H241.36" stroke="#000" stroke-width="1" fill="none"/>
<path d="M247.85 1013.4V1058.9M243.75 1013.4H251.95M243.75 1058.9H251.95" stroke="#000" stroke-width="1" fill="none"/>
<path d="M332.59 900.9V1058.9M328.49 900.9H336.69M328.49 1058.9H336.69" stroke="#000" stroke-width="1" fill="none"/>
<path d="M343.18 897.2V1058.9M339.08 897.2H347.28M339.08 1058.9H347.28" stroke="#000" stroke-width="1" fill="none"/>
<path d="M353.78 898.7V1058.9M349.68 898.7H357.88M349.68 1058.9H357.88" stroke="#000" stroke-width="1" fill="none"/>
<path d="M364.37 950.1V1058.9M360.27 950.1H368.47M360.27 1058.9H368.47" stroke="#000" stroke-width="1" fill="none"/>
<path d="M374.96 886V1058.9M370.86 886H379.06M370.86 1058.9H379.06" stroke="#000" stroke-width="1" fill="none"/>
<path d="M385.55 1028.2V1058.9M381.45 1028.2H389.65M381.45 1058.9H389.65" stroke="#000" stroke-width="1" fill="none"/>
<path d="M438.52 1042.2V1043.4M434.42 1042.2H442.62M434.42 1043.4H442.62" stroke="#000" stroke-width="1" fill="none"/>
<path d="M470.29 1039.8V1051.5M466.19 1039.8H474.39M466.19 1051.5H474.39" stroke="#000" stroke-width="1" fill="none"/>
<path d="M480.88 1037.1V1051.5M476.78 1037.1H484.98M476.78 1051.5H484.98" stroke="#000" stroke-width="1" fill="none"/>
<path d="M491.48 1040.8V1051.5M487.38 1040.8H495.58M487.38 1051.5H495.58" stroke="#000" stroke-width="1" fill="none"/>
<path d="M502.07 1039V1051.5M497.97 1039H506.17M497.97 1051.5H506.17" stroke="#000" stroke-width="1" fill="none"/>
<path d="M512.66 1032.3V1051.5M508.56 1032.3H516.76M508.56 1051.5H516.76" stroke="#000" stroke-width="1" fill="none"/>
<path d="M523.25 1032.3V1051.5M519.15 1032.3H527.35M519.15 1051.5H527.35" stroke="#000" stroke-width="1" fill="none"/>
<path d="M115.45 1122.4h8M666.25 1122.4h-8" stroke="#000" stroke-width="1.4" fill="none"/>
<text class="tk" x="97" y="1132.6" text-anchor="end">0</text>
<path d="M115.45 1069.06h8M666.25 1069.06h-8" stroke="#000" stroke-width="1.4" fill="none"/>
<text class="tk" x="97" y="1079.26" text-anchor="end">3</text>
<path d="M115.45 1015.73h8M666.25 1015.73h-8" stroke="#000" stroke-width="1.4" fill="none"/>
<text class="tk" x="97" y="1025.93" text-anchor="end">6</text>
<path d="M115.45 962.39h8M666.25 962.39h-8" stroke="#000" stroke-width="1.4" fill="none"/>
<text class="tk" x="97" y="972.59" text-anchor="end">9</text>
<path d="M115.45 909.06h8M666.25 909.06h-8" stroke="#000" stroke-width="1.4" fill="none"/>
<text class="tk" x="97" y="919.26" text-anchor="end">12</text>
<path d="M253.15 873.5v8" stroke="#000" stroke-width="1.4" fill="none"/>
<path d="M253.15 1122.4v-8" stroke="#000" stroke-width="1.1" fill="none"/>
<text class="tk" x="253.15" y="1163.9" text-anchor="middle">Co</text>
<path d="M390.85 873.5v8" stroke="#000" stroke-width="1.4" fill="none"/>
<path d="M390.85 1122.4v-8" stroke="#000" stroke-width="1.1" fill="none"/>
<text class="tk" x="390.85" y="1163.9" text-anchor="middle">Ni</text>
<path d="M528.55 873.5v8" stroke="#000" stroke-width="1.4" fill="none"/>
<path d="M528.55 1122.4v-8" stroke="#000" stroke-width="1.1" fill="none"/>
<text class="tk" x="528.55" y="1163.9" text-anchor="middle">Cu</text>
<rect x="115.45" y="873.5" width="550.8" height="248.9" fill="none" stroke="#000" stroke-width="1.9"/>
<text class="yl" transform="translate(18.8 1135.9) rotate(-90)">Diffusion Coefficient<tspan class="it" dx="10.4">D</tspan><tspan dx="3.2">(x10</tspan><tspan class="sup" dy="-9">-9</tspan><tspan dy="9" dx="4.6">m</tspan><tspan class="sup" dy="-9">2</tspan><tspan dy="9">s</tspan><tspan class="sup" dy="-9">-1</tspan><tspan dy="9">)</tspan></text>
</g>
</svg></body></html>
